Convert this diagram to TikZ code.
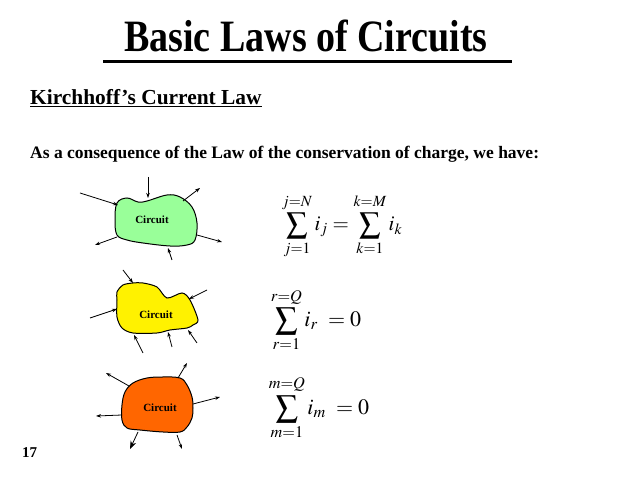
\documentclass[tikz,border=0pt]{standalone}
\usepackage{mathptmx}
\usepackage{fontspec}
\setmainfont{Liberation Serif}
\usetikzlibrary{arrows.meta}
\newcommand{\uplim}[1]{\raisebox{2pt}{$\scriptstyle #1$}}
\newcommand{\lolim}[1]{\raisebox{-2pt}{$\scriptstyle #1$}}
\begin{document}
\begin{tikzpicture}[x=1pt,y=-1pt,
  blob/.style={draw=black,line width=1pt},
  cur/.style={draw=black,line width=0.8pt,-{Stealth[length=5pt,width=3.5pt]}},
  lbl/.style={font=\bfseries\fontsize{11}{13}\selectfont},
  eq/.style={inner sep=0pt,font=\fontsize{21}{25}\selectfont}]
\useasboundingbox[fill=white] (0,0) rectangle (638,478);
% texts
\node[anchor=base,inner sep=0pt,font=\bfseries\fontsize{38}{44}\selectfont] (title) at (306,52) {\scalebox{1}[1.18]{Basic Laws of Circuits}};
\draw[line width=3pt] (103,62) -- (512,62);
\node[anchor=base west,inner sep=0pt,font=\bfseries\fontsize{21.4}{25}\selectfont] (kcl) at (30,105) {Kirchhoff’s Current Law};
\draw[line width=1.4pt] (kcl.south west) ++(0,1) -- ++(232,0);
\node[anchor=base west,inner sep=0pt,font=\bfseries\fontsize{17.5}{20}\selectfont] (intro) at (30,159) {As a consequence of the Law of the conservation of charge, we have:};
\node[anchor=base west,inner sep=0pt,font=\bfseries\fontsize{15}{18}\selectfont] (pg) at (22,458) {17};
% green circuit
\filldraw[blob,fill={rgb,255:red,153;green,255;blue,153}] plot[smooth cycle,tension=0.6] coordinates{
 (117,203) (127,198) (138,202) (147,201) (167,195) (180,197) (192,207) (197,223) (195,240) (187,245) (170,246) (143,243) (127,240) (117,235) (115,220)};
\node[lbl] (c1) at (152,220) {Circuit};
\coordinate (g1a) at (80,193); \coordinate (g1b) at (118,205);
\coordinate (g2a) at (148,177); \coordinate (g2b) at (148,198);
\coordinate (g3a) at (183,201); \coordinate (g3b) at (200,188);
\coordinate (g4a) at (197,235); \coordinate (g4b) at (222,242);
\coordinate (g5a) at (117,237); \coordinate (g5b) at (95,245);
\coordinate (g6a) at (172,260); \coordinate (g6b) at (168,248);
\foreach \n in {1,...,6} \draw[cur] (g\n a) -- (g\n b);
% yellow circuit
\filldraw[blob,fill=yellow] plot[smooth cycle,tension=0.5] coordinates{
 (117,292) (123,285) (133,283) (143,283) (157,287) (167,298) (182,293) (190,300) (198,320) (193,325) (187,328) (170,330) (157,333) (133,333) (122,328) (117,317) (117,300)};
\node[lbl] (c2) at (156,315) {Circuit};
\coordinate (y1a) at (123,270); \coordinate (y1b) at (133,283);
\coordinate (y2a) at (207,290); \coordinate (y2b) at (189,299);
\coordinate (y3a) at (90,318); \coordinate (y3b) at (117,309);
\coordinate (y4a) at (143,353); \coordinate (y4b) at (134,335);
\coordinate (y5a) at (172,347); \coordinate (y5b) at (168,332);
\coordinate (y6a) at (197,343); \coordinate (y6b) at (188,330);
\foreach \n in {1,...,6} \draw[cur] (y\n a) -- (y\n b);
% orange circuit
\filldraw[blob,fill={rgb,255:red,255;green,102;blue,0}] plot[smooth cycle,tension=0.6] coordinates{
 (122,405) (125,392) (133,383) (147,378) (163,377) (180,378) (187,385) (192,397) (193,408) (192,418) (187,427) (180,432) (163,432) (140,430) (127,428) (122,420)};
\node[lbl] (c3) at (160,408) {Circuit};
\coordinate (o1a) at (129,386); \coordinate (o1b) at (106,373);
\coordinate (o2a) at (178,378); \coordinate (o2b) at (187,363);
\coordinate (o3a) at (193,404); \coordinate (o3b) at (220,397);
\coordinate (o4a) at (122,415); \coordinate (o4b) at (96,416);
\coordinate (o6a) at (177,435); \coordinate (o6b) at (182,449);
\foreach \n in {1,2,3,4,6} \draw[cur] (o\n a) -- (o\n b);
\coordinate (o5a) at (138,432); \coordinate (o5b) at (130,449);
\draw[draw=black,line width=0.8pt,-{Stealth[length=8pt,width=6pt]}] (o5a) -- (o5b);
% equations
\node[eq] (e1) at (342,226) {$\displaystyle\sum_{\lolim{j=1}}^{\uplim{j=N}} i_j = \sum_{\lolim{k=1}}^{\uplim{k=M}} i_k$};
\node[eq,font=\fontsize{22}{26}\selectfont] (e2) at (316,320) {$\displaystyle\sum_{\lolim{r=1}}^{\uplim{r=Q}} i_r\ = 0$};
\node[eq,font=\fontsize{22}{26}\selectfont] (e3) at (319,408) {$\displaystyle\sum_{\lolim{m=1}}^{\uplim{m=Q}} i_m\ = 0$};
\end{tikzpicture}
\end{document}
